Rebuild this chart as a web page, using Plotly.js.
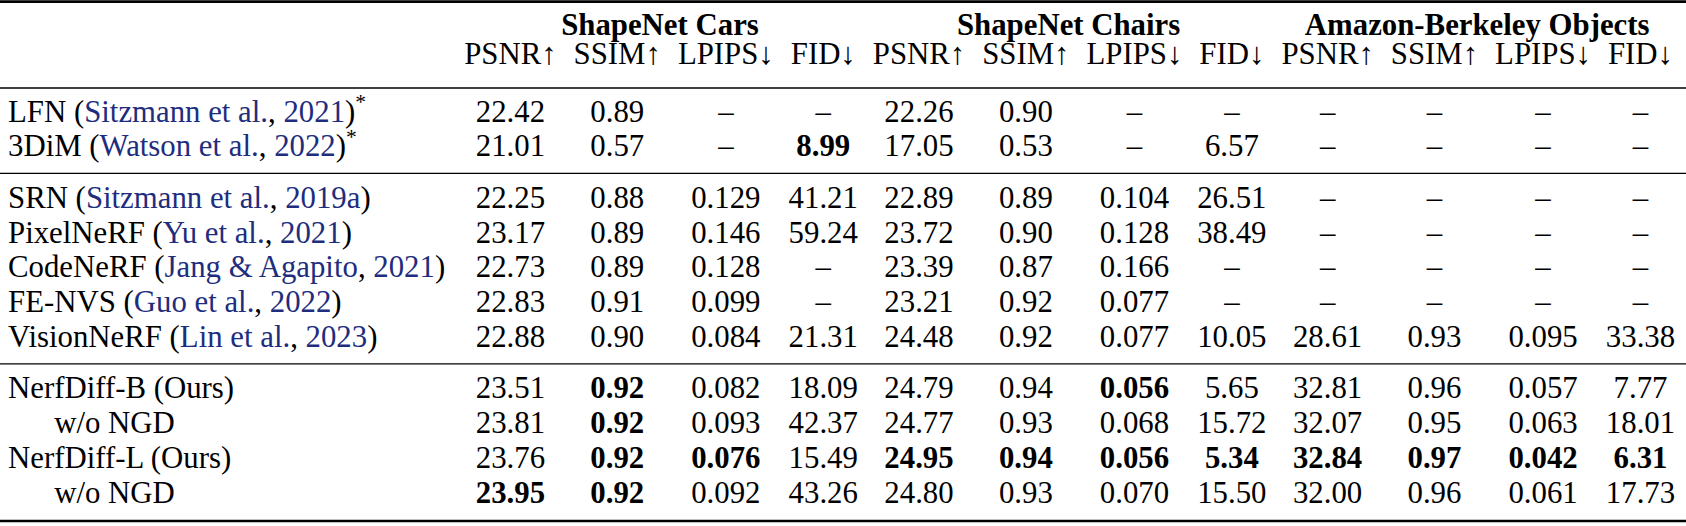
<!DOCTYPE html>
<html>
<head>
<meta charset="utf-8">
<script src="https://cdn.plot.ly/plotly-3.0.1.min.js"></script>
<style>
  html, body { margin: 0; padding: 0; background: #fff; }
  #table { width: 1686px; height: 526px; }
</style>
</head>
<body>
<div id="table"></div>
<script>
/* ── Novel-view synthesis results table, drawn as text marks on hidden axes ── */

const DATASETS = ["ShapeNet Cars", "ShapeNet Chairs", "Amazon-Berkeley Objects"];
const METRICS  = ["PSNR", "SSIM", "LPIPS", "FID"];
const ARROWS   = ["↑", "↑", "↓", "↓"];
const DIGITS   = [2, 2, 3, 2];

const methods   = ["LFN", "3DiM", "SRN", "PixelNeRF", "CodeNeRF", "FE-NVS", "VisionNeRF",
                   "NerfDiff-B (Ours)", "w/o NGD", "NerfDiff-L (Ours)", "w/o NGD"];
const citeAuthors = ["Sitzmann et al.", "Watson et al.", "Sitzmann et al.", "Yu et al.",
                     "Jang & Agapito", "Guo et al.", "Lin et al.", null, null, null, null];
const citeYears   = ["2021", "2022", "2019a", "2021", "2021", "2022", "2023", null, null, null, null];
const starred   = [true, true, false, false, false, false, false, false, false, false, false];
const ablation  = [false, false, false, false, false, false, false, false, true, false, true];
const rowGroup  = [0, 0, 1, 1, 1, 1, 1, 2, 2, 2, 2];

const carsPSNR    = [22.42, 21.01, 22.25, 23.17, 22.73, 22.83, 22.88, 23.51, 23.81, 23.76, 23.95];
const carsSSIM    = [0.89, 0.57, 0.88, 0.89, 0.89, 0.91, 0.90, 0.92, 0.92, 0.92, 0.92];
const carsLPIPS   = [null, null, 0.129, 0.146, 0.128, 0.099, 0.084, 0.082, 0.093, 0.076, 0.092];
const carsFID     = [null, 8.99, 41.21, 59.24, null, null, 21.31, 18.09, 42.37, 15.49, 43.26];
const chairsPSNR  = [22.26, 17.05, 22.89, 23.72, 23.39, 23.21, 24.48, 24.79, 24.77, 24.95, 24.80];
const chairsSSIM  = [0.90, 0.53, 0.89, 0.90, 0.87, 0.92, 0.92, 0.94, 0.93, 0.94, 0.93];
const chairsLPIPS = [null, null, 0.104, 0.128, 0.166, 0.077, 0.077, 0.056, 0.068, 0.056, 0.070];
const chairsFID   = [null, 6.57, 26.51, 38.49, null, null, 10.05, 5.65, 15.72, 5.34, 15.50];
const aboPSNR     = [null, null, null, null, null, null, 28.61, 32.81, 32.07, 32.84, 32.00];
const aboSSIM     = [null, null, null, null, null, null, 0.93, 0.96, 0.95, 0.97, 0.96];
const aboLPIPS    = [null, null, null, null, null, null, 0.095, 0.057, 0.063, 0.042, 0.061];
const aboFID      = [null, null, null, null, null, null, 33.38, 7.77, 18.01, 6.31, 17.73];

// best entries, shown in bold: [column, row]
const bestCells = [[0, 10], [1, 7], [1, 8], [1, 9], [1, 10], [2, 9], [3, 1],
                   [4, 9], [5, 9], [6, 7], [6, 9], [7, 9],
                   [8, 9], [9, 9], [10, 9], [11, 9]];

const columns = [carsPSNR, carsSSIM, carsLPIPS, carsFID,
                 chairsPSNR, chairsSSIM, chairsLPIPS, chairsFID,
                 aboPSNR, aboSSIM, aboLPIPS, aboFID];

/* ── geometry / style (pixel units on both axes) ── */
const W = 1686, H = 526;
const FONT_NAME = "Liberation Serif";
const FONT  = "'Liberation Serif', 'Times New Roman', Times, serif";
const FS    = 30.8;
const CITE  = "#1e2d7d";
const ARROW_EM  = 0.5;     // width of a math arrow, LaTeX-style
const COL_GAP   = 17;      // space between header cells
const RIGHT_PAD = 13;
const LABEL_X   = 8;

const HEAD_Y = 27, SUB_Y = 56, HEAD_RULE_Y = 88;
const ROW_Y0 = 114, ROW_PITCH = 34.8, GROUP_GAP = 16.5;

/* column centres from header widths, laid out from the right edge like a tabular */
const ctx = document.createElement("canvas").getContext("2d");
ctx.font = `${FS}px '${FONT_NAME}'`;
const nCols = columns.length;
const colW = columns.map((_, c) => ctx.measureText(METRICS[c % 4]).width + ARROW_EM * FS);
const colX = new Array(nCols);
colX[nCols - 1] = W - RIGHT_PAD - colW[nCols - 1] / 2;
for (let c = nCols - 2; c >= 0; c--) {
  colX[c] = colX[c + 1] - (colW[c] + colW[c + 1]) / 2 - COL_GAP;
}

const rowY = methods.map((_, i) => ROW_Y0 + i * ROW_PITCH + GROUP_GAP * rowGroup[i]);
const isBest = (c, r) => bestCells.some(([bc, br]) => bc === c && br === r);

/* ── 1. Body cells ── */
const cellX = [], cellY = [], cellT = [];
columns.forEach((col, c) => {
  col.forEach((v, r) => {
    const s = v === null ? "–" : v.toFixed(DIGITS[c % 4]);
    cellX.push(colX[c]);
    cellY.push(rowY[r]);
    cellT.push(isBest(c, r) ? `<b>${s}</b>` : s);
  });
});

const body = {
  type: "scatter", mode: "text",
  x: cellX, y: cellY, text: cellT,
  textposition: "middle center",
  textfont: { family: FONT, size: FS, color: "#000" },
  hoverinfo: "skip", showlegend: false,
};

/* ── 2. Method labels ── */
const labelText = methods.map((m, i) => {
  let s = ablation[i] ? "\u2003\u2002" + m : m;
  if (citeAuthors[i]) {
    s += ` (<span style="color:${CITE}">${citeAuthors[i].replace("&", "&amp;")}</span>, ` +
         `<span style="color:${CITE}">${citeYears[i]}</span>)`;
  }
  if (starred[i]) s += "<sup>*</sup>";
  return s;
});

const labels = {
  type: "scatter", mode: "text",
  x: methods.map(() => LABEL_X), y: rowY, text: labelText,
  textposition: "middle right",
  textfont: { family: FONT, size: FS, color: "#000" },
  hoverinfo: "skip", showlegend: false,
};

/* ── 3. Headers ── */
const headX = [], headY = [], headT = [];
DATASETS.forEach((d, g) => {
  const first = g * 4, last = g * 4 + 3;
  headX.push(((colX[first] - colW[first] / 2) + (colX[last] + colW[last] / 2)) / 2);
  headY.push(HEAD_Y);
  headT.push(`<b>${d}</b>`);
  METRICS.forEach((m, k) => {
    headX.push(colX[first + k]);
    headY.push(SUB_Y);
    headT.push(m + ARROWS[k]);
  });
});

const headers = {
  type: "scatter", mode: "text",
  x: headX, y: headY, text: headT,
  textposition: "middle center",
  textfont: { family: FONT, size: FS, color: "#000" },
  hoverinfo: "skip", showlegend: false,
};

/* ── 4. Rules (booktabs style) ── */
const rules = [{ y: 1.6, w: 2.6 }, { y: HEAD_RULE_Y, w: 1.3 }];
for (let i = 1; i < rowY.length; i++) {
  if (rowGroup[i] !== rowGroup[i - 1]) rules.push({ y: (rowY[i - 1] + rowY[i]) / 2 - 1, w: 1.3 });
}
rules.push({ y: rowY[rowY.length - 1] + 26, w: 2.6 });

const shapes = rules.map(r => ({
  type: "line", xref: "paper", yref: "y",
  x0: 0, x1: 1, y0: r.y, y1: r.y,
  line: { color: "#000", width: r.w },
}));

/* ── 5. Layout ── */
const layout = {
  width: W, height: H,
  paper_bgcolor: "#fff", plot_bgcolor: "#fff",
  margin: { l: 0, r: 0, t: 0, b: 0 },
  xaxis: { range: [0, W], visible: false, fixedrange: true },
  yaxis: { range: [H, 0], visible: false, fixedrange: true },
  shapes,
  showlegend: false,
};

Plotly.newPlot("table", [labels, headers, body], layout, { staticPlot: true, displayModeBar: false });
</script>
</body>
</html>
